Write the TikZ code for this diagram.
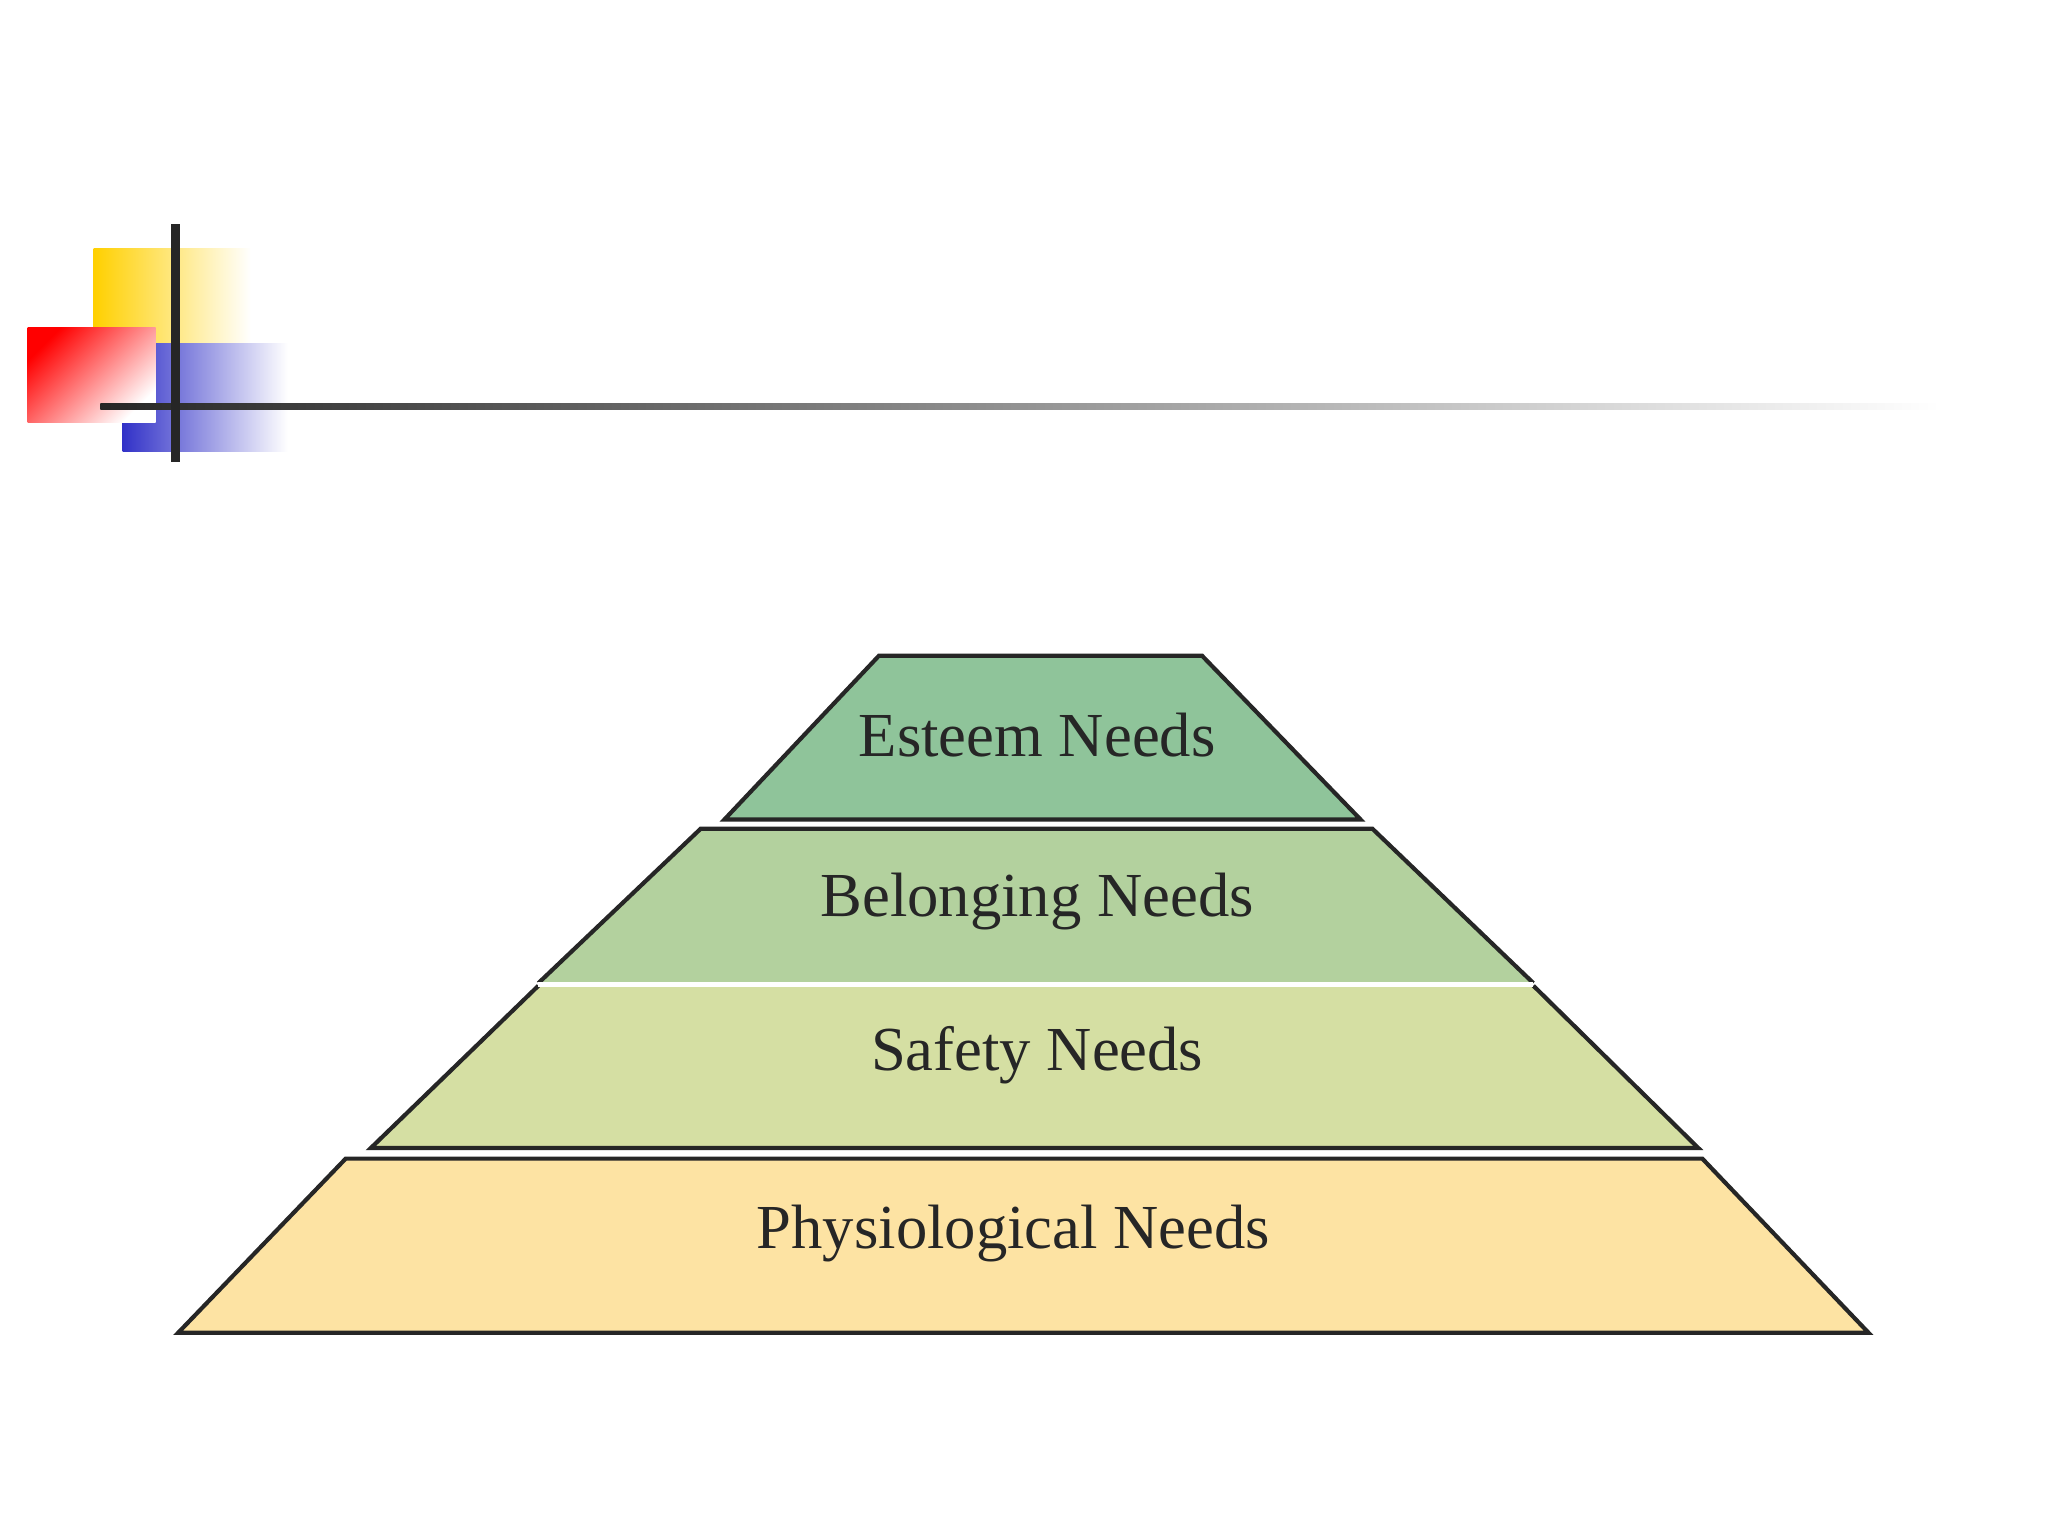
\documentclass[tikz,border=0pt]{standalone}
\usepackage{fontspec}
\setmainfont{Liberation Serif}
\begin{document}
\begin{tikzpicture}[x=0.01cm,y=-0.01cm,
  tier/.style={draw=black!85,line width=0.9pt,line join=miter},
  lbl/.style={font=\fontsize{13.5}{16}\selectfont,text=black!85}]
\useasboundingbox[fill=white] (0,0) rectangle (1552,1164);
% decoration
\shade[left color={rgb,255:red,255;green,208;blue,0}, right color=white] (71,188) rectangle (190,262);
\shade[left color={rgb,255:red,50;green,50;blue,200}, right color=white] (93,260) rectangle (218,342);
\shade[left color=red, right color=white, shading angle=45] (21,248) rectangle (118,320);
\shade[left color=black!85, right color=white] (76,306) rectangle (1470,310);
\draw[black!85,line width=2pt] (133,170) -- (133,350);
% pyramid
\draw[tier,fill={rgb,255:red,143;green,196;blue,154}] (666,497) -- (911,497) -- (1031,621) -- (549,621) -- cycle;
\fill[fill={rgb,255:red,179;green,209;blue,158}] (531,628) -- (1040,628) -- (1162,745) -- (408,745) -- cycle;
\draw[tier] (408,745) -- (531,628) -- (1040,628) -- (1162,745);
\fill[fill={rgb,255:red,213;green,223;blue,163}] (408,747) -- (1162,747) -- (1287,870) -- (281,870) -- cycle;
\draw[tier] (408,747) -- (281,870) -- (1287,870) -- (1162,747);
\draw[draw=white,line width=1.2pt] (408,746) -- (1162,746);
\draw[tier,fill={rgb,255:red,253;green,227;blue,163}] (262,878) -- (1290,878) -- (1416,1010) -- (135,1010) -- cycle;
\node[lbl] (e) at (786,557) {Esteem Needs};
\node[lbl] (b) at (786,683) {Belonging Needs};
\node[lbl] (s) at (786,800) {Safety Needs};
\node[lbl] (p) at (768,935) {Physiological Needs};
\end{tikzpicture}
\end{document}
